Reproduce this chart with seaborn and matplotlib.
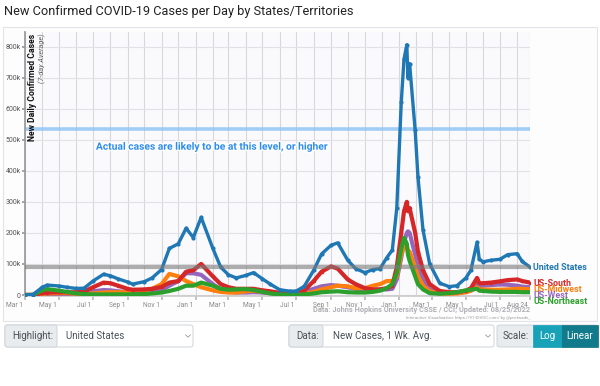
import pandas as pd
import numpy as np
import matplotlib
matplotlib.use('Agg')
import matplotlib.pyplot as plt
import matplotlib.dates as mdates
import matplotlib.patheffects as pe
from matplotlib.patches import FancyBboxPatch, Rectangle
from matplotlib.lines import Line2D
from matplotlib.ticker import FuncFormatter, MultipleLocator
from matplotlib.transforms import ScaledTranslation
import seaborn as sns

# --- data (7-day avg of new cases, thousands) ---
dates = [
    '2020-03-01', '2020-03-15', '2020-04-01', '2020-04-10', '2020-05-01', '2020-05-15', '2020-06-01',
    '2020-06-15', '2020-07-01', '2020-07-20', '2020-08-01', '2020-08-15', '2020-09-01', '2020-09-10',
    '2020-10-01', '2020-10-15', '2020-11-01', '2020-11-15', '2020-12-01', '2020-12-15', '2020-12-28',
    '2021-01-11', '2021-02-01', '2021-02-15', '2021-03-01', '2021-03-15', '2021-04-01', '2021-04-15',
    '2021-05-01', '2021-05-15', '2021-06-01', '2021-06-20', '2021-07-01', '2021-07-15', '2021-08-01',
    '2021-08-15', '2021-09-01', '2021-09-13', '2021-10-01', '2021-10-15', '2021-11-01', '2021-11-15',
    '2021-11-28', '2021-12-10', '2021-12-20', '2021-12-28',
    '2022-01-05', '2022-01-10', '2022-01-15', '2022-01-17', '2022-01-20', '2022-01-30', '2022-02-04',
    '2022-02-13', '2022-02-25', '2022-03-15', '2022-04-01', '2022-04-15', '2022-05-01', '2022-05-10',
    '2022-05-21', '2022-05-25', '2022-06-01', '2022-06-15', '2022-07-01', '2022-07-15', '2022-08-01',
    '2022-08-10', '2022-08-24']

us = [0, 1, 25, 32, 29, 25, 21, 22, 45, 67, 62, 52, 42, 35, 43, 55, 82, 150, 165, 215, 185,
      250, 150, 90, 65, 55, 63, 72, 52, 35, 17, 12, 13, 28, 80, 132, 160, 168, 112, 85, 72, 82, 85, 120, 145, 280,
      620, 760, 806, 700, 745, 530, 380, 210, 100, 38, 27, 30, 55, 80, 170, 115, 107, 112, 115, 130, 133, 108, 90]
south = [0, 0.3, 6, 8, 9, 9, 9, 11, 25, 40, 38, 30, 20, 17, 18, 20, 26, 40, 45, 75, 80,
         100, 60, 35, 25, 20, 20, 20, 15, 12, 7, 5, 6, 14, 45, 75, 92, 85, 50, 35, 22, 18, 18, 22, 30, 90,
         200, 270, 300, 270, 280, 200, 140, 80, 35, 13, 9, 9, 14, 22, 55, 38, 38, 40, 44, 48, 50, 45, 40]
midwest = [0, 0.2, 4, 5, 6, 6, 4, 3, 5, 8, 9, 9, 9, 10, 14, 20, 35, 68, 60, 45, 35,
           25, 15, 10, 8, 8, 12, 14, 10, 7, 3, 2, 2, 4, 10, 18, 25, 30, 28, 22, 22, 30, 35, 45, 45, 60,
           130, 155, 160, 140, 140, 90, 60, 30, 12, 5, 4, 5, 9, 14, 25, 18, 18, 17, 17, 18, 20, 20, 18]
west = [0, 0.2, 2, 3, 3, 3, 4, 6, 12, 16, 15, 12, 9, 8, 9, 11, 16, 30, 45, 70, 70,
        65, 35, 18, 10, 8, 8, 9, 8, 6, 4, 4, 5, 10, 20, 28, 32, 30, 25, 20, 17, 17, 18, 18, 20, 50,
        120, 170, 200, 205, 200, 130, 90, 50, 18, 8, 6, 7, 10, 14, 38, 28, 30, 32, 34, 33, 30, 27, 25]
northeast = [0, 0.5, 15, 19, 14, 10, 5, 3, 2, 2, 2, 2, 2, 2.5, 3, 5, 8, 13, 20, 30, 30,
             40, 30, 20, 17, 18, 19, 16, 10, 5, 2, 1, 1, 2, 5, 9, 11, 12, 9, 8, 8, 10, 14, 22, 35, 70,
             150, 184, 165, 130, 110, 60, 35, 18, 6, 4, 6, 9, 15, 17, 20, 14, 13, 11, 10, 10, 10, 9, 9]

region_names = ['US-West', 'US-Midwest', 'US-South', 'US-Northeast']
region_colors = {'US-West': '#9467bd', 'US-Midwest': '#ff7f0e', 'US-South': '#d62728',
                 'US-Northeast': '#2ca02c', 'United States': '#1f77b4'}
xtick_dates = ['2020-03-01', '2020-05-01', '2020-07-01', '2020-09-01', '2020-11-01', '2021-01-01',
               '2021-03-01', '2021-05-01', '2021-07-01', '2021-09-01', '2021-11-01', '2022-01-01',
               '2022-03-01', '2022-05-01', '2022-07-01', '2022-08-24']
xtick_labels = ['Mar 1', 'May 1', 'Jul 1', 'Sep 1', 'Nov 1', 'Jan 1', 'Mar 1', 'May 1', 'Jul 1',
                'Sep 1', 'Nov 1', 'Jan 1', 'Mar 1', 'May 1', 'Jul 1', 'Aug 24']

df = pd.DataFrame({'date': pd.to_datetime(dates), 'United States': us, 'US-South': south,
                   'US-Midwest': midwest, 'US-West': west, 'US-Northeast': northeast})
long = df.melt(id_vars='date', var_name='region', value_name='cases')
long['cases'] = long['cases'] * 1000

sns.set_theme(style='white')
plt.rcParams['font.family'] = ['Roboto', 'DejaVu Sans']

W, H = 600, 386
fig = plt.figure(figsize=(6, 3.86), dpi=100)
fig.patch.set_facecolor('white')


def fx(x):
    return x / W


def fy(y):
    return 1 - y / H


# outer panel
fig.patches.append(Rectangle((fx(3), fy(321)), fx(594), 294 / H, transform=fig.transFigure,
                             fc='#fdfdfe', ec='#e4e4e8', lw=0.8, zorder=-10))
fig.text(fx(4), fy(11), 'New Confirmed COVID-19 Cases per Day by States/Territories',
         fontsize=9.2, color='#222222', va='center', ha='left')

ax = fig.add_axes([fx(25), fy(296), fx(505), 264 / H])
ax.set_zorder(1)
ax.set_facecolor('#fafafc')

# regions
for name in region_names:
    sub = long[long['region'] == name]
    sns.lineplot(data=sub, x='date', y='cases', color=region_colors[name], lw=3.0, ax=ax,
                 marker='o' if name == 'US-South' else None, markersize=2.6, markeredgewidth=0,
                 zorder=3, legend=False)
sub = long[long['region'] == 'United States']
sns.lineplot(data=sub, x='date', y='cases', color=region_colors['United States'], lw=2.4, ax=ax,
             marker='o', markersize=3, markeredgewidth=0, zorder=4, legend=False)

# reference lines
ax.axhline(535000, color='#8cc3f5', lw=2.6, alpha=0.8, zorder=2)
ax.axhline(90000, color='#7a7a7a', lw=3.0, alpha=0.6, zorder=5)
ax.text(pd.Timestamp('2021-01-30'), 477000, 'Actual cases are likely to be at this level, or higher',
        color='#2b8cf0', fontsize=7.4, fontweight='bold', ha='center', va='center', zorder=6,
        path_effects=[pe.withStroke(linewidth=2, foreground='white')])

ax.set_xlim(pd.Timestamp('2020-03-01'), pd.Timestamp('2022-08-24'))
ax.set_ylim(-3200, 847000)
ax.yaxis.set_major_locator(MultipleLocator(100000))
ax.yaxis.set_major_formatter(FuncFormatter(lambda v, p: '0' if v == 0 else f'{int(v / 1000)}k'))
ax.set_xticks(pd.to_datetime(xtick_dates))
ax.set_xticklabels(xtick_labels)
ax.xaxis.set_minor_locator(mdates.MonthLocator())
ax.grid(True, which='both', axis='x', color='#d8d8dc', lw=0.8)
ax.grid(True, which='major', axis='y', color='#e2e2e6', lw=0.8)
ax.tick_params(axis='y', labelsize=5, labelcolor='#555555', length=2, color='#999999', pad=1, left=True)
ax.tick_params(axis='x', labelsize=4.8, labelcolor='#888888', length=3, color='#bbbbbb', pad=1, bottom=True)
offset = ScaledTranslation(-2 / 100, 0, fig.dpi_scale_trans)
for lab in ax.get_xticklabels():
    lab.set_ha('right')
    lab.set_transform(lab.get_transform() + offset)
for s in ['top', 'right']:
    ax.spines[s].set_visible(False)
ax.spines['left'].set_color('#999999')
ax.spines['bottom'].set_color('#cccccc')
ax.set_xlabel('')
ax.set_ylabel('')

ax.text(0.006, 0.995, 'New Daily Confirmed Cases', transform=ax.transAxes, rotation=90,
        fontsize=6.2, fontweight='bold', color='#111111', ha='left', va='top')
ax.text(0.026, 0.995, '(7-day Average)', transform=ax.transAxes, rotation=90,
        fontsize=5.2, style='italic', color='#666666', ha='left', va='top')

# end labels
end_labels = [('United States', 267), ('US-South', 283), ('US-Midwest', 289),
              ('US-West', 295), ('US-Northeast', 301)]
for name, ypx in end_labels:
    fig.text(fx(533), fy(ypx), name, color=region_colors[name], fontsize=6.4,
             fontweight='bold', va='center', ha='left', zorder=5)

fig.text(fx(530), fy(310.5), 'Data: Johns Hopkins University CSSE / CCI; Updated: 08/25/2022',
         fontsize=5.3, fontweight='bold', color='#b0b0b4', ha='right', va='center')
fig.text(fx(530), fy(318), 'Interactive Visualization: https://91-DIVOC.com/ by @profwade_',
         fontsize=3.2, color='#a0a0a4', ha='right', va='center')


# control bar
def box(x0, y0, x1, y1, fc, ec='#ced4da', r=3):
    p = FancyBboxPatch((fx(x0), fy(y1)), fx(x1 - x0), (y1 - y0) / H,
                       boxstyle=f'round,pad=0,rounding_size={r / W}', transform=fig.transFigure,
                       fc=fc, ec=ec, lw=0.7)
    fig.patches.append(p)


def chevron(x, y):
    fig.lines.append(Line2D([fx(x - 2.5), fx(x), fx(x + 2.5)], [fy(y - 1.2), fy(y + 1.2), fy(y - 1.2)],
                            transform=fig.transFigure, color='#9a9a9a', lw=0.6))


ytop, ybot = 325, 347
ymid = (ytop + ybot) / 2
box(5, ytop, 193, ybot, 'white')
box(5, ytop, 57, ybot, '#e9ecef')
fig.text(fx(12), fy(ymid), 'Highlight:', fontsize=7, color='#495057', va='center')
fig.text(fx(66), fy(ymid), 'United States', fontsize=7, color='#495057', va='center')
chevron(188, ymid)

box(289, ytop, 494, ybot, 'white')
box(289, ytop, 323, ybot, '#e9ecef')
fig.text(fx(296), fy(ymid), 'Data:', fontsize=7, color='#495057', va='center')
fig.text(fx(333), fy(ymid), 'New Cases, 1 Wk. Avg.', fontsize=7, color='#495057', va='center')
chevron(488, ymid)

box(497, ytop, 598, ybot, '#e9ecef')
fig.text(fx(503), fy(ymid), 'Scale:', fontsize=7, color='#495057', va='center')
fig.patches.append(Rectangle((fx(533), fy(ybot)), fx(28.5), (ybot - ytop) / H, transform=fig.transFigure,
                             fc='#17a2b8', ec='#17a2b8', lw=0.5))
fig.patches.append(Rectangle((fx(561.5), fy(ybot)), fx(36), (ybot - ytop) / H, transform=fig.transFigure,
                             fc='#117a8b', ec='#10707f', lw=0.5))
fig.text(fx(547), fy(ymid), 'Log', fontsize=7, color='white', va='center', ha='center')
fig.text(fx(579.5), fy(ymid), 'Linear', fontsize=7, color='white', va='center', ha='center')

fig.savefig('out.png', dpi=100)
